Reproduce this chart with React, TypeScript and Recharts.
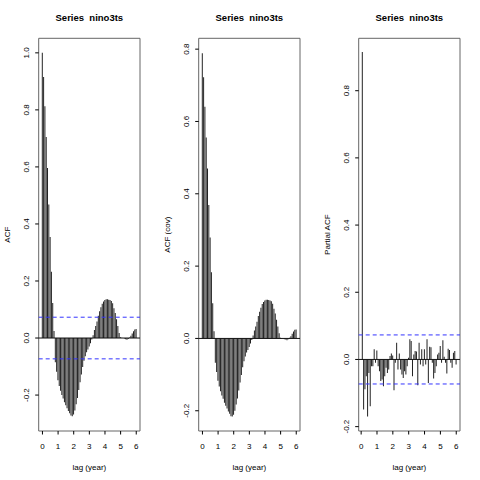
import React from 'react'
import { BarChart, Bar, XAxis, YAxis, ReferenceLine, ReferenceArea } from 'recharts'

// ACF of nino3ts, monthly lags 0..72 (0 to 6 years)
const ACF_VALUES = [
  1.0, 0.915, 0.813, 0.705, 0.596, 0.468, 0.354, 0.232, 0.123, 0.025,
  -0.085, -0.118, -0.148, -0.168, -0.185, -0.2, -0.212, -0.225, -0.236, -0.246,
  -0.256, -0.264, -0.272, -0.274, -0.268, -0.254, -0.232, -0.21, -0.182, -0.155,
  -0.128, -0.102, -0.08, -0.064, -0.05, -0.04, -0.03, -0.018, -0.005, 0.01,
  0.028, 0.042, 0.058, 0.078, 0.094, 0.108, 0.12, 0.128, 0.133, 0.136,
  0.136, 0.134, 0.133, 0.13, 0.122, 0.104, 0.088, 0.066, 0.042, 0.018,
  0.003, 0.001, 0.0, -0.002, -0.004, -0.006, -0.003, 0.002, 0.008, 0.016,
  0.024, 0.03, 0.032,
]

// autocovariance, same lags
const ACF_COV_VALUES = [
  0.789, 0.722, 0.641, 0.556, 0.47, 0.369, 0.279, 0.183, 0.097, 0.02,
  -0.067, -0.093, -0.117, -0.133, -0.146, -0.158, -0.167, -0.178, -0.186, -0.194,
  -0.202, -0.208, -0.215, -0.216, -0.211, -0.2, -0.183, -0.166, -0.144, -0.122,
  -0.101, -0.08, -0.063, -0.05, -0.039, -0.032, -0.024, -0.014, -0.004, 0.008,
  0.022, 0.033, 0.046, 0.062, 0.074, 0.085, 0.095, 0.101, 0.105, 0.107,
  0.107, 0.106, 0.105, 0.103, 0.096, 0.082, 0.069, 0.052, 0.033, 0.014,
  0.002, 0.001, 0.0, -0.002, -0.003, -0.005, -0.002, 0.002, 0.006, 0.013,
  0.019, 0.024, 0.025,
]

// partial ACF, lags 1..72
const PACF_VALUES = [
  0.915, -0.149, -0.089, -0.05, -0.17, -0.04, -0.139, -0.02, -0.02, 0.03,
  -0.01, 0.027, -0.02, -0.035, -0.064, -0.06, -0.08, -0.05, -0.025, -0.04,
  -0.03, 0.01, 0.018, 0.012, -0.092, -0.01, 0.05, -0.03, 0.018, -0.03,
  -0.045, -0.055, -0.035, -0.045, -0.02, 0.005, 0.06, 0.055, -0.05, 0.015,
  0.025, 0.024, -0.077, 0.05, -0.015, 0.03, -0.02, 0.03, -0.015, 0.06,
  -0.07, 0.038, 0.036, -0.01, -0.057, -0.04, -0.02, 0.015, 0.02, 0.04,
  -0.01, 0.057, 0.008, -0.01, -0.042, 0.032, 0.028, -0.01, -0.025, 0.02,
  0.025, -0.015,
]

const CI = 0.073
const X_TICKS = [0, 1, 2, 3, 4, 5, 6]
const TITLE = 'Series  nino3ts'

const FONT = '"Liberation Sans", Arial, Helvetica, sans-serif'

const acfData = ACF_VALUES.map((v, i) => ({ lag: i / 12, value: v }))
const covData = ACF_COV_VALUES.map((v, i) => ({ lag: i / 12, value: v }))
const pacfData = PACF_VALUES.map((v, i) => ({ lag: (i + 1) / 12, value: v }))

const YTick = (props: any) => {
  const { x, y, payload } = props
  const tx = x - 6
  return (
    <text
      x={tx}
      y={y}
      transform={`rotate(-90 ${tx} ${y})`}
      textAnchor="middle"
      fontSize={8}
      fontFamily={FONT}
      fill="#000"
    >
      {Number(payload.value).toFixed(1)}
    </text>
  )
}

interface PanelProps {
  data: { lag: number; value: number }[]
  xDomain: [number, number]
  yDomain: [number, number]
  yTicks: number[]
  ylabel: string
  showCi: boolean
}

function AcfPanel({ data, xDomain, yDomain, yTicks, ylabel, showCi }: PanelProps) {
  return (
    <div style={{ position: 'relative', width: 160, height: 480 }}>
      <div
        style={{
          position: 'absolute',
          left: 38.7,
          width: 101.3,
          top: 12,
          textAlign: 'center',
          fontFamily: FONT,
          fontWeight: 'bold',
          fontSize: 9.5,
          whiteSpace: 'pre',
        }}
      >
        {TITLE}
      </div>
      <BarChart width={160} height={480} data={data} margin={{ left: 0, right: 20, top: 38.3, bottom: 0 }}>
        <XAxis
          type="number"
          dataKey="lag"
          domain={xDomain}
          allowDataOverflow
          ticks={X_TICKS}
          axisLine={false}
          tickLine={{ stroke: '#000' }}
          tickSize={3.5}
          tickMargin={9}
          height={49}
          tick={{ fontSize: 8, fontFamily: FONT, fill: '#000' }}
          label={({ viewBox }: any) => (
            <text
              x={viewBox.x + viewBox.width / 2}
              y={469.6}
              textAnchor="middle"
              fontSize={8}
              fontFamily={FONT}
              fill="#000"
            >
              lag (year)
            </text>
          )}
        />
        <YAxis
          type="number"
          domain={yDomain}
          allowDataOverflow
          ticks={yTicks}
          width={38.7}
          axisLine={false}
          tickLine={{ stroke: '#000' }}
          tickSize={3.5}
          tickMargin={0}
          tick={<YTick />}
          label={({ viewBox }: any) => {
            const lx = 9.6
            const ly = viewBox.y + viewBox.height / 2
            return (
              <text
                x={lx}
                y={ly}
                transform={`rotate(-90 ${lx} ${ly})`}
                textAnchor="middle"
                fontSize={8}
                fontFamily={FONT}
                fill="#000"
              >
                {ylabel}
              </text>
            )
          }}
        />
        <ReferenceArea
          x1={xDomain[0]}
          x2={xDomain[1]}
          y1={yDomain[0]}
          y2={yDomain[1]}
          fill="none"
          stroke="#666"
          strokeWidth={1}
        />
        <Bar dataKey="value" fill="#222" barSize={1} isAnimationActive={false} />
        <ReferenceLine y={0} stroke="#111" strokeWidth={1} />
        {showCi && <ReferenceLine y={CI} stroke="#3333ff" strokeDasharray="4 3" />}
        {showCi && <ReferenceLine y={-CI} stroke="#3333ff" strokeDasharray="4 3" />}
      </BarChart>
    </div>
  )
}

export default function App() {
  return (
    <div
      style={{
        position: 'absolute',
        left: 0,
        top: 0,
        width: 480,
        height: 480,
        background: '#fff',
        display: 'flex',
      }}
    >
      <AcfPanel
        data={acfData}
        xDomain={[-0.24, 6.24]}
        yDomain={[-0.326, 1.051]}
        yTicks={[-0.2, 0, 0.2, 0.4, 0.6, 0.8, 1.0]}
        ylabel="ACF"
        showCi
      />
      <AcfPanel
        data={covData}
        xDomain={[-0.24, 6.24]}
        yDomain={[-0.256, 0.83]}
        yTicks={[-0.2, 0, 0.2, 0.4, 0.6, 0.8]}
        ylabel="ACF (cov)"
        showCi={false}
      />
      <AcfPanel
        data={pacfData}
        xDomain={[-0.154, 6.237]}
        yDomain={[-0.213, 0.956]}
        yTicks={[-0.2, 0, 0.2, 0.4, 0.6, 0.8]}
        ylabel="Partial ACF"
        showCi
      />
    </div>
  )
}
